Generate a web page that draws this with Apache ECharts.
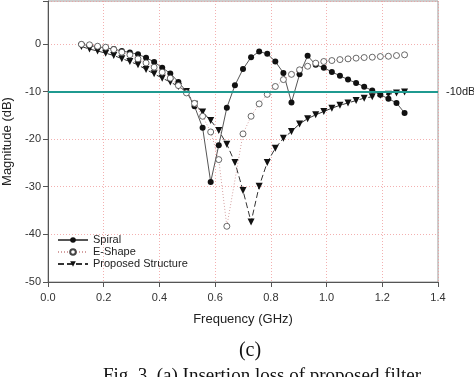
<!DOCTYPE html>
<html>
<head>
<meta charset="utf-8">
<script src="https://cdn.jsdelivr.net/npm/echarts@6/dist/echarts.min.js"></script>
<style>
  * { margin: 0; padding: 0; }
  body { background: #ffffff; }
  #myChart { width: 474px; height: 377px; }
</style>
</head>
<body>
<div id="myChart"></div>
<script>
// frequency points (GHz)
var freq = [0.120, 0.149, 0.178, 0.207, 0.236, 0.265, 0.294, 0.323, 0.352, 0.381,
            0.410, 0.439, 0.468, 0.497, 0.526, 0.555, 0.584, 0.613, 0.642, 0.671,
            0.700, 0.729, 0.758, 0.787, 0.816, 0.845, 0.874, 0.903, 0.932, 0.961,
            0.990, 1.019, 1.048, 1.077, 1.106, 1.135, 1.164, 1.193, 1.222, 1.251, 1.280];

// magnitude (dB)
var spiral = [-0.1, -0.35, -0.6, -0.85, -1.1, -1.5, -1.8, -2.2, -2.9, -3.8,
              -5.0, -6.2, -8.0, -10.0, -13.1, -17.6, -29.0, -21.3, -13.4, -8.7,
              -5.3, -2.8, -1.6, -2.1, -3.7, -6.1, -12.3, -6.4, -2.5, -4.4,
              -5.0, -5.9, -6.7, -7.5, -8.2, -9.0, -9.8, -10.7, -11.5, -12.4, -14.5];

var eShape = [-0.1, -0.2, -0.5, -0.7, -1.2, -1.75, -2.3, -3.15, -4.0, -4.9,
              -5.95, -7.2, -8.75, -10.3, -12.5, -15.2, -18.5, -24.3, -38.3, null,
              -18.9, -15.2, -12.6, -10.6, -8.95, -7.5, -6.4, -5.45, -4.7, -4.05,
              -3.7, -3.5, -3.3, -3.15, -3.0, -2.87, -2.8, -2.66, -2.6, -2.45, -2.3];

var proposed = [-0.55, -1.1, -1.5, -1.95, -2.45, -3.1, -3.7, -4.4, -5.4, -6.3,
                -7.2, -8.0, -8.95, -10.0, -12.7, -14.3, -16.1, -18.2, -21.1, -24.9,
                -30.8, -37.4, -29.9, -24.9, -21.9, -19.8, -18.4, -16.8, -15.7, -14.9,
                -14.2, -13.5, -12.9, -12.4, -11.9, -11.4, -11.1, -10.8, -10.6, -10.3, -10.1];

var refLevel = -10;
var seriesNames = ['Spiral', 'E-Shape', 'Proposed Structure'];

function pairs(ys) {
    var out = [];
    for (var i = 0; i < freq.length; i++) {
        out.push([freq[i], ys[i] === null ? '-' : ys[i]]);
    }
    return out;
}

var font = 'Liberation Sans, Arial, sans-serif';
var serif = 'Liberation Serif, Times New Roman, serif';
var gridLine = { color: '#f09c9c', width: 1, type: [1, 2], opacity: 0.8 };

var myChart = echarts.init(document.getElementById('myChart'));
myChart.setOption({
    animation: false,
    textStyle: { fontFamily: font },
    title: [
        {
            text: '(c)',
            left: 245, top: 336, textAlign: 'center',
            textStyle: { fontFamily: serif, fontSize: 20, fontWeight: 'normal', color: '#111' }
        },
        {
            text: 'Fig. 3. (a) Insertion loss of proposed filter',
            left: 257, top: 362, textAlign: 'center',
            textStyle: { fontFamily: serif, fontSize: 19, fontWeight: 'normal', color: '#111' }
        }
    ],
    legend: {
        data: seriesNames,
        orient: 'vertical',
        left: 57, top: 234, padding: 0,
        itemWidth: 30, itemHeight: 7, itemGap: 0,
        textStyle: { fontSize: 11, lineHeight: 12, color: '#222', fontFamily: font }
    },
    grid: {
        left: 48, right: 36, top: 1, bottom: 95,
        outerBoundsMode: 'none',
        containLabel: false,
        show: true, borderColor: '#9a9a9a', borderWidth: 1
    },
    xAxis: {
        type: 'value',
        min: 0, max: 1.4, interval: 0.2,
        name: 'Frequency (GHz)',
        nameLocation: 'middle', nameGap: 31,
        nameTextStyle: { fontSize: 13, color: '#222' },
        axisLine: { show: true, onZero: false, lineStyle: { color: '#555' } },
        axisTick: { show: true, inside: false, length: 5, lineStyle: { color: '#555' } },
        axisLabel: { fontSize: 11, color: '#333', margin: 10, formatter: function (v) { return v.toFixed(1); } },
        splitLine: { show: true, lineStyle: gridLine }
    },
    yAxis: {
        type: 'value',
        min: -50, max: 9, interval: 10,
        name: 'Magnitude (dB)',
        nameLocation: 'middle', nameGap: 34,
        nameTextStyle: { fontSize: 13, color: '#222' },
        axisLine: { show: true, onZero: false, lineStyle: { color: '#555' } },
        axisTick: { show: true, inside: false, length: 5, lineStyle: { color: '#555' } },
        axisLabel: { fontSize: 11, color: '#333', margin: 7, formatter: function (v) { return v > 0 ? '' : v; } },
        splitLine: { show: true, lineStyle: gridLine }
    },
    series: [
        {
            name: 'Spiral',
            type: 'line',
            data: pairs(spiral),
            symbol: 'circle', symbolSize: 6,
            itemStyle: { color: '#111' },
            lineStyle: { color: '#555', width: 1, type: 'solid' },
            z: 3,
            markLine: {
                silent: true,
                symbol: 'none',
                data: [{ yAxis: refLevel }],
                lineStyle: { color: '#1f9a90', width: 2, type: 'solid' },
                label: { show: true, position: 'end', distance: 8, formatter: '-10dB', fontSize: 11, color: '#222' }
            }
        },
        {
            name: 'E-Shape',
            type: 'line',
            data: pairs(eShape),
            connectNulls: true,
            symbol: 'circle', symbolSize: 6,
            itemStyle: { color: '#ffffff', borderColor: '#444', borderWidth: 0.8 },
            lineStyle: { color: '#d4a0a0', width: 1, type: [1, 2] },
            z: 4
        },
        {
            name: 'Proposed Structure',
            type: 'line',
            data: pairs(proposed),
            symbol: 'triangle', symbolSize: 7, symbolRotate: 180,
            itemStyle: { color: '#111' },
            lineStyle: { color: '#333', width: 1, type: [6, 3] },
            z: 2
        }
    ]
});
</script>
</body>
</html>
